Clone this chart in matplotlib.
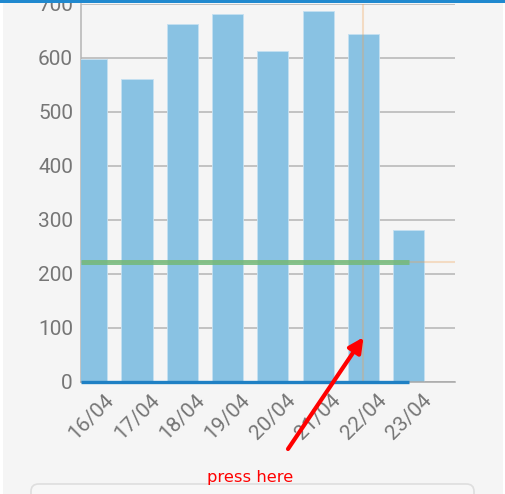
import matplotlib
matplotlib.use("Agg")
import matplotlib.pyplot as plt
from matplotlib.patches import Rectangle, FancyBboxPatch
import numpy as np

# data
days = ["16/04", "17/04", "18/04", "19/04", "20/04", "21/04", "22/04", "23/04"]
counts = [597, 560, 662, 681, 612, 686, 644, 280]
target = [222, 222, 222, 222, 222, 222, 222, 222]
baseline = [0, 0, 0, 0, 0, 0, 0, 0]
highlight_idx = 6
y_ticks = [0, 100, 200, 300, 400, 500, 600, 700]

W, H = 506, 494
fig = plt.figure(figsize=(W / 100, H / 100), dpi=100)
fig.patch.set_facecolor("white")

# grey app background panel
fig.add_artist(Rectangle((3 / W, 0), 500 / W, 1, transform=fig.transFigure,
                         facecolor="#f5f5f5", edgecolor="none", zorder=-10))

ax = fig.add_axes([81 / W, 1 - 381.5 / H, 374 / W, 377.8 / H])
ax.set_facecolor("none")
x0, x1 = -0.236, 8.02

x = np.arange(len(days))
ax.bar(x, counts, width=0.685, color="#89c2e3", edgecolor="#c5e0f2",
       linewidth=0.6, zorder=2)

# target line (green) and zero line (blue), from the left edge to the last bar
xs = np.concatenate([[x0], x])
ax.plot(xs, [target[0]] + target, color="#72b97a", lw=3.6, alpha=0.85,
        solid_capstyle="butt", zorder=4)
ax.plot(xs, [baseline[0]] + baseline, color="#1f80c4", lw=2.4,
        solid_capstyle="butt", zorder=5, clip_on=False)

# highlight crosshair (translucent orange, looks grey over the bars)
ax.axvline(x[highlight_idx], color="#f0a050", lw=1.5, alpha=0.3, zorder=3)
ax.axhline(target[highlight_idx], color="#f0a050", lw=1.5, alpha=0.3, zorder=3)

ax.set_xlim(x0, x1)
ax.set_ylim(0, 700)
ax.set_yticks(y_ticks)
ax.set_xticks(x)
ax.set_xticklabels(days)

ax.grid(axis="y", color="#b4b4b4", lw=1.1)
ax.set_axisbelow(True)
for side in ["top", "right"]:
    ax.spines[side].set_visible(False)
ax.spines["left"].set_color("#b4b4b4")
ax.spines["left"].set_linewidth(1.1)
ax.spines["left"].set_zorder(1)
ax.spines["bottom"].set_color("#a8a8a8")
ax.spines["bottom"].set_linewidth(1.1)

ax.tick_params(axis="y", length=0, pad=5.8, labelsize=15, labelcolor="#767676")
ax.tick_params(axis="x", length=0, pad=25.5, labelsize=15, labelcolor="#767676")
for lab in ax.get_yticklabels():
    lab.set_family("Roboto")
for lab in ax.get_xticklabels():
    lab.set_family("Roboto")
    lab.set_rotation(45)
    lab.set_rotation_mode("anchor")
    lab.set_ha("center")
    lab.set_va("center")

# blue header strip at the very top
fig.add_artist(Rectangle((0, 1 - 3.5 / H), 1, 3.5 / H, transform=fig.transFigure,
                         facecolor="#2089cf", edgecolor="none", zorder=20))

# annotation arrow and caption
ax.annotate("", xy=(x[highlight_idx], 82), xycoords="data",
            xytext=(288 / W, 1 - 449 / H), textcoords="figure fraction",
            arrowprops=dict(arrowstyle="-|>", color="red", lw=3,
                            mutation_scale=22, shrinkA=0, shrinkB=0),
            annotation_clip=False, zorder=10)
fig.text(250 / W, 1 - 477 / H, "press here", color="red", fontsize=11.8,
         family="DejaVu Sans", ha="center", va="center")

# rounded card at the bottom edge
fig.add_artist(FancyBboxPatch((31 / W, -0.05), 443 / W, 0.05 + (494 - 484) / H,
                              boxstyle="round,pad=0,rounding_size=0.015",
                              transform=fig.transFigure, facecolor="#f7f7f7",
                              edgecolor="#dedede", lw=1.2, zorder=1))

fig.savefig("out.png", dpi=100, facecolor=fig.get_facecolor())
